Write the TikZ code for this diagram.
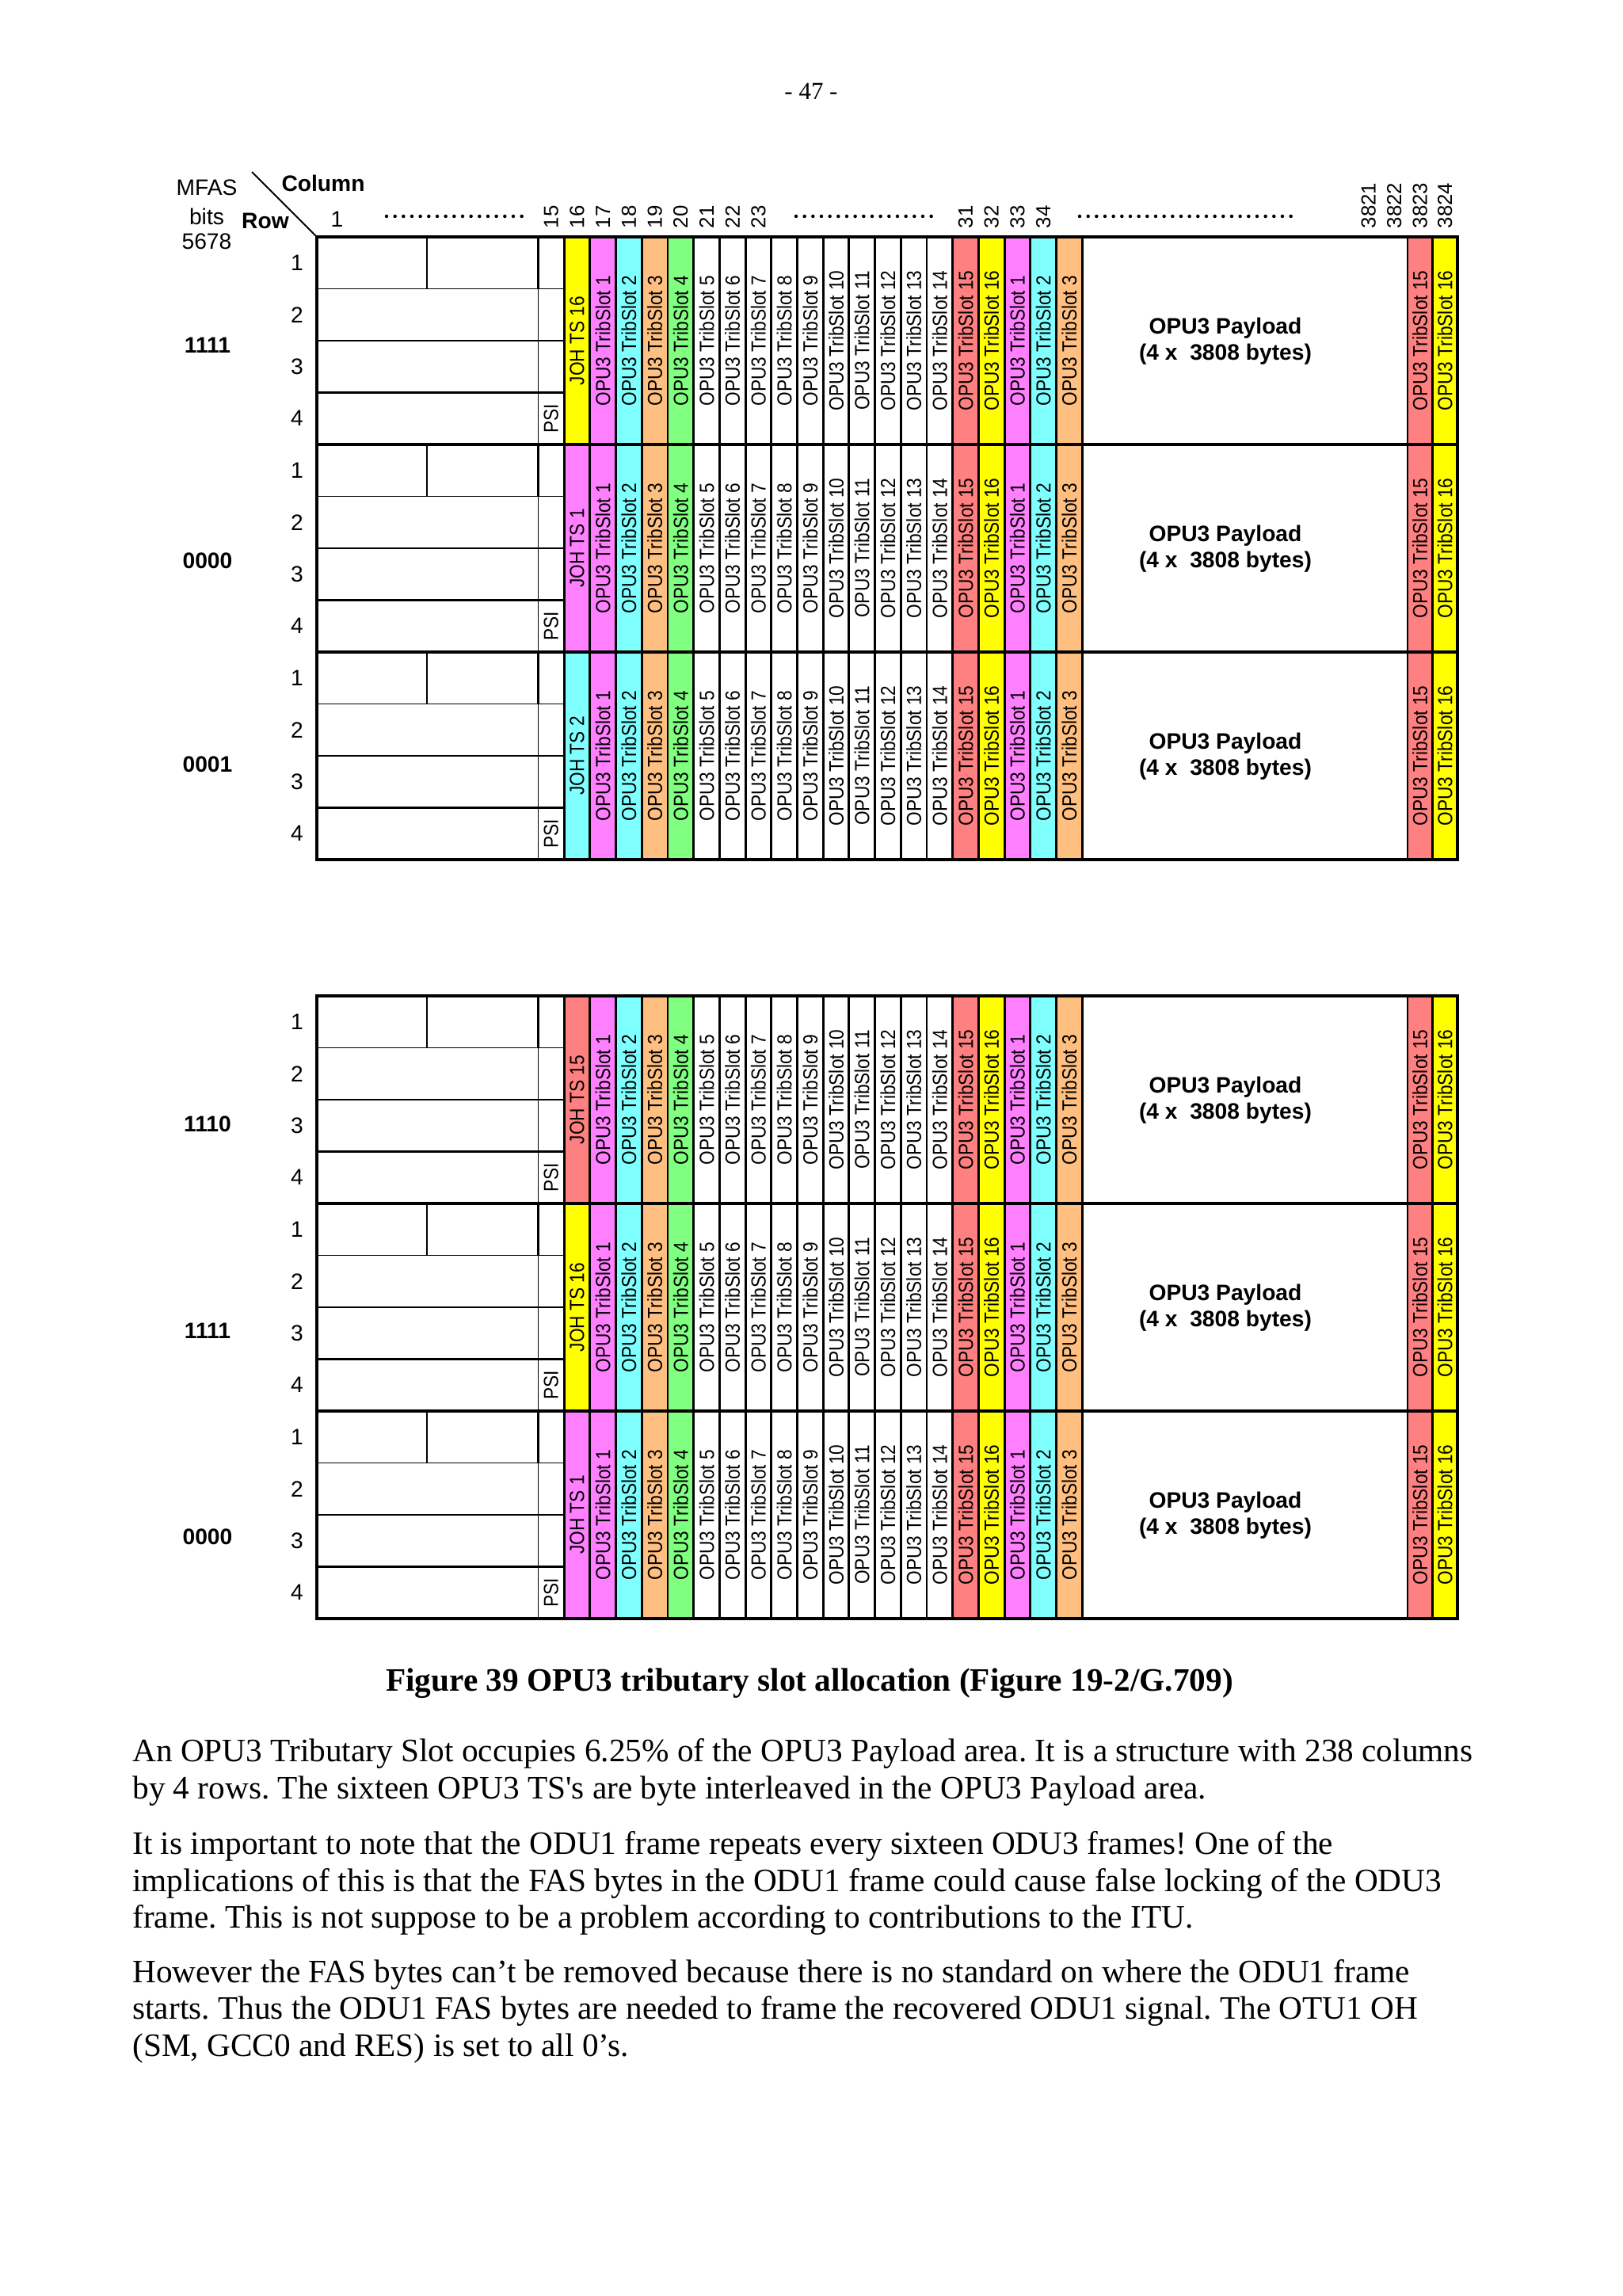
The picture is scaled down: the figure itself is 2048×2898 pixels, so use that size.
\documentclass[tikz,border=0pt]{standalone}
\usepackage{graphicx}
\usepackage{fontspec}
\setmainfont{Liberation Serif}
\setsansfont{Liberation Sans}
\frenchspacing

\definecolor{tsyellow}{RGB}{255,255,0}
\definecolor{tsmagenta}{RGB}{255,128,255}
\definecolor{tscyan}{RGB}{128,255,255}
\definecolor{tsorange}{RGB}{255,191,128}
\definecolor{tsgreen}{RGB}{128,255,128}
\definecolor{tsred}{RGB}{255,128,128}

\newcommand{\gridfont}{\fontsize{8.2}{9.6}\selectfont\sffamily}
\newcommand{\slotfont}{\fontsize{7.5}{8}\selectfont\sffamily}
\newcommand{\colfont}{\fontsize{7.5}{8}\selectfont\sffamily}
\newcommand{\slotlabel}[1]{\scalebox{0.88}[1]{#1}}

% one multiframe: #1 top, #2 JOH colour, #3 JOH slot, #4 MFAS bits, #5 MFAS label y, #6 name
\newcommand{\opublock}[6]{%
  \begin{scope}[shift={(0,#1)}]
    \fill [#2] (712.2,0) rectangle (744.9,262);
    \foreach \c/\col in {17/tsmagenta,18/tscyan,19/tsorange,20/tsgreen,31/tsred,32/tsyellow,33/tsmagenta,34/tscyan,35/tsorange}
      \fill [\col] ({679.5+32.7*(\c-15)},0) rectangle ({679.5+32.7*(\c-14)},262);
    \fill [tsred] (1777,0) rectangle (1808.5,262);
    \fill [tsyellow] (1808.5,0) rectangle (1840,262);
    \draw [rowline] (400,65.5) -- (712.2,65.5);
    \draw [rowline] (400,131) -- (712.2,131);
    \draw [colline] (400,196.5) -- (712.2,196.5);
    \draw [rowline] (539,0) -- (539,65.5);
    \draw [blockline] (679.5,0) -- (679.5,65.5);
    \draw [thinline] (679.5,65.5) -- (679.5,262);
    \foreach \k in {0,...,20}
      \draw [colline] ({712.2+32.7*\k},0) -- ({712.2+32.7*\k},262);
    \draw [colline] (1777,0) -- (1777,262);
    \draw [colline] (1808.5,0) -- (1808.5,262);
    \draw [blockline] (400,0) rectangle (1840,262);
    \foreach \r in {1,...,4}
      \node (#6-row\r) at (375,{65.5*\r-32.75}) {\gridfont\r};
    \node (#6-mfas) at (262,#5) {\gridfont\bfseries #4};
    \node [slot] (#6-psi) at (695.85,229.25) {\slotlabel{PSI}};
    \node [slot] (#6-joh) at (728.55,131) {\slotlabel{JOH TS #3}};
    \foreach \c [evaluate={\c as \n using int(mod(\c-17,16)+1)}] in {17,...,35}
      \node [slot] (#6-ts\c) at ({679.5+32.7*(\c-14.5)},131) {\slotlabel{OPU3 TribSlot \n}};
    \node [slot] (#6-ts3823) at (1792.75,131) {\slotlabel{OPU3 TribSlot 15}};
    \node [slot] (#6-ts3824) at (1824.25,131) {\slotlabel{OPU3 TribSlot 16}};
    \node [payload] (#6-payload) at (1547,132) {OPU3 Payload\\(4 x\ \ 3808 bytes)};
  \end{scope}}

\begin{document}
\begin{tikzpicture}[x=0.29067pt, y=-0.29067pt,
    rowline/.style={line width=0.55pt},
    colline/.style={line width=0.85pt},
    blockline/.style={line width=1.15pt},
    thinline/.style={line width=0.4pt},
    dotrow/.style={line width=1.3pt, line cap=round, dash pattern=on 0pt off 3.1pt},
    slot/.style={rotate=90, font=\slotfont},
    colnum/.style={rotate=90, anchor=west, font=\colfont},
    payload/.style={align=center, font=\gridfont\bfseries},
    bodytext/.style={anchor=base west, font=\fontsize{12}{14}\selectfont}]
        \tikzstyle{every node}+=[inner sep=0pt]
        \useasboundingbox [fill=white] (0,0) rectangle (2048,2898);

        \node [anchor=base] (pagenum) at (1024,125) {\fontsize{9}{10}\selectfont - 47 -};

        \node (mfashead) at (261,237) {\gridfont MFAS};
        \node (bitshead) at (261,273) {\gridfont bits};
        \node (numhead) at (261,305) {\gridfont 5678};
        \node (rowhead) at (335,279) {\gridfont\bfseries Row};
        \node (colhead) at (408,231) {\gridfont\bfseries Column};
        \node (col1) at (425.5,277) {\gridfont 1};
        \coordinate (diagtop) at (318,217);
        \coordinate (corner) at (400,299);
        \draw [rowline] (diagtop) -- (corner);
        \foreach \k in {15,...,23}
          \node [colnum] (col\k) at ({679.5+32.7*(\k-14.5)},289) {\k};
        \foreach \k in {31,...,34}
          \node [colnum] (col\k) at ({679.5+32.7*(\k-14.5)},289) {\k};
        \foreach \k/\x in {3821/1727.75,3822/1760.25,3823/1792.75,3824/1824.25}
          \node [colnum] (col\k) at (\x,289) {\k};
        \draw [dotrow] (488,273) -- (669,273);
        \draw [dotrow] (1005,273) -- (1184,273);
        \draw [dotrow] (1363,273) -- (1635,273);

        \opublock{299}{tsyellow}{16}{1111}{137}{b1}
        \opublock{561}{tsmagenta}{1}{0000}{147}{b2}
        \opublock{823}{tscyan}{2}{0001}{142}{b3}
        \opublock{1257}{tsred}{15}{1110}{162}{b4}
        \opublock{1519}{tsyellow}{16}{1111}{161}{b5}
        \opublock{1781}{tsmagenta}{1}{0000}{159}{b6}
        \foreach \t in {561,823,1519,1781}
          \draw [blockline] (400,\t) -- (1840,\t);

        \node [anchor=base] (caption) at (1022,2134) {\fontsize{12}{14}\selectfont\bfseries Figure 39 OPU3 tributary slot allocation (Figure 19-2/G.709)};

        \node [bodytext] (p1a) at (166.7,2223) {An OPU3 Tributary Slot occupies 6.25\% of the OPU3 Payload area. It is a structure with 238 columns};
        \node [bodytext] (p1b) at (166.7,2270) {by 4 rows. The sixteen OPU3 TS\textquotesingle s are byte interleaved in the OPU3 Payload area.};
        \node [bodytext] (p2a) at (166.7,2340) {It is important to note that the ODU1 frame repeats every sixteen ODU3 frames! One of the};
        \node [bodytext] (p2b) at (166.7,2387) {implications of this is that the FAS bytes in the ODU1 frame could cause false locking of the ODU3};
        \node [bodytext] (p2c) at (166.7,2433) {frame. This is not suppose to be a problem according to contributions to the ITU.};
        \node [bodytext] (p3a) at (166.7,2502) {However the FAS bytes can’t be removed because there is no standard on where the ODU1 frame};
        \node [bodytext] (p3b) at (166.7,2548) {starts. Thus the ODU1 FAS bytes are needed to frame the recovered ODU1 signal. The OTU1 OH};
        \node [bodytext] (p3c) at (166.7,2595) {(SM, GCC0 and RES) is set to all 0’s.};
\end{tikzpicture}
\end{document}
